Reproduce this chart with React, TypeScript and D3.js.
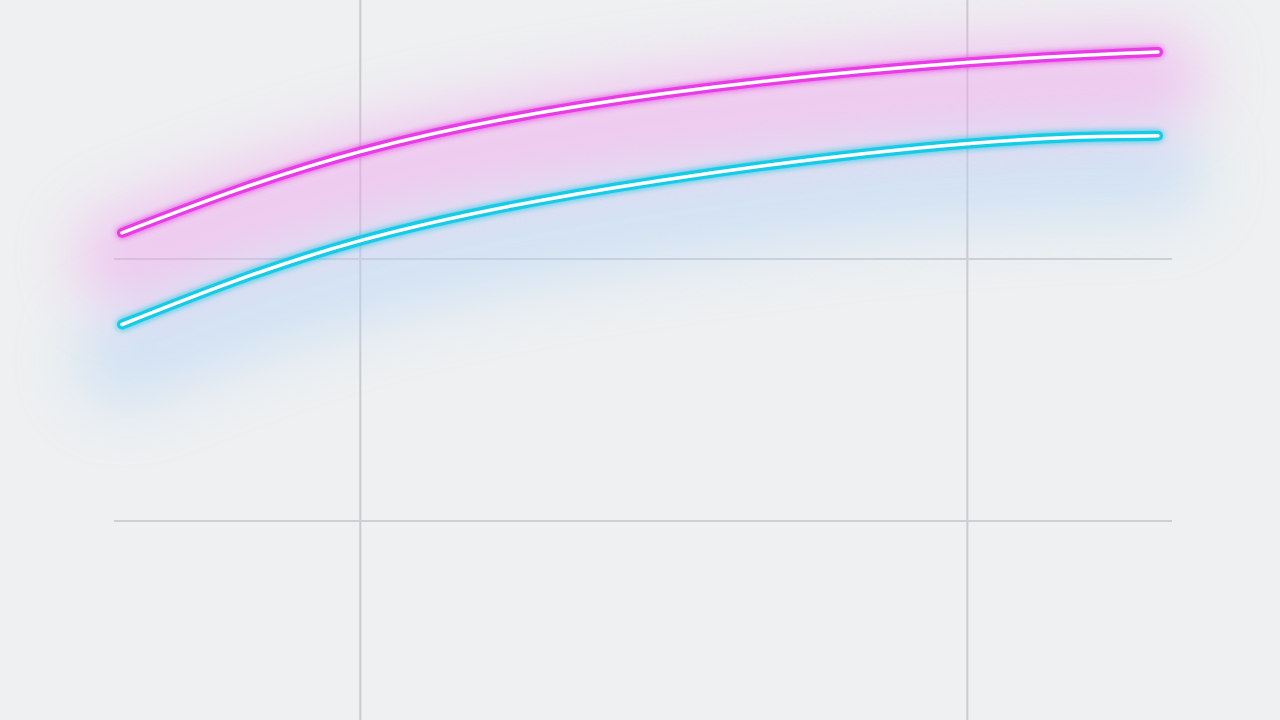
import React, { useMemo } from 'react';
import * as d3 from 'd3';

// x positions of the samples (0..1 across the drawn span)
const xValues = [0, 0.23, 0.52, 0.815, 1];
// two series, values in grid units (gridline 1 and 2)
const magentaValues = [2.1, 2.41, 2.63, 2.75, 2.79];
const cyanValues = [1.75, 2.07, 2.3, 2.44, 2.47];
// gridline positions
const xGridTicks = [0.23, 0.816];
const yGridTicks = [1, 2];

const W = 1280;
const H = 720;

type Pt = { x: number; y: number };

export default function App() {
  const xScale = useMemo(() => d3.scaleLinear().domain([0, 1]).range([122, 1158]), []);
  const yScale = useMemo(() => d3.scaleLinear().domain([0, 1]).range([783, 521]), []);

  const line = d3.line<Pt>()
    .curve(d3.curveNatural)
    .x(d => xScale(d.x))
    .y(d => yScale(d.y));

  const magenta = xValues.map((x, i) => ({ x, y: magentaValues[i] }));
  const cyan = xValues.map((x, i) => ({ x, y: cyanValues[i] }));

  const series = [
    { key: 'm', data: magenta, color: '#e83ce6', haze: '#f0a2ee', shift: 25 },
    { key: 'c', data: cyan, color: '#18cbe6', haze: '#b6d6f6', shift: 35 },
  ];

  return (
    <svg width={W} height={H} style={{ position: 'absolute', left: 0, top: 0, display: 'block' }}>
      <defs>
        <filter id="haze" x="-20%" y="-150%" width="140%" height="400%">
          <feGaussianBlur stdDeviation="30" />
        </filter>
        <filter id="glow" x="-10%" y="-50%" width="120%" height="200%">
          <feGaussianBlur stdDeviation="3" result="b" />
          <feMerge>
            <feMergeNode in="b" />
            <feMergeNode in="SourceGraphic" />
          </feMerge>
        </filter>
      </defs>
      <rect width={W} height={H} fill="#eef0f1" />

      {/* grid */}
      {xGridTicks.map(t => (
        <line key={'gx' + t} x1={xScale(t)} x2={xScale(t)} y1={0} y2={H} stroke="#c9cbce" strokeWidth={2} />
      ))}
      {yGridTicks.map(t => (
        <line key={'gy' + t} x1={114} x2={1172} y1={yScale(t)} y2={yScale(t)} stroke="#cdd0d3" strokeWidth={2} />
      ))}

      {/* wide soft haze */}
      {series.slice().reverse().map(s => (
        <path key={'h' + s.key} d={line(s.data) || ''} fill="none" stroke={s.haze} strokeWidth={95}
          strokeLinecap="round" opacity={0.5} filter="url(#haze)" transform={`translate(0,${s.shift})`} />
      ))}

      {/* neon lines */}
      {series.map(s => (
        <g key={s.key}>
          <path d={line(s.data) || ''} fill="none" stroke={s.color} strokeWidth={10}
            strokeLinecap="round" filter="url(#glow)" />
          <path d={line(s.data) || ''} fill="none" stroke="#ffffff" strokeWidth={3.5}
            strokeLinecap="round" />
        </g>
      ))}
    </svg>
  );
}
